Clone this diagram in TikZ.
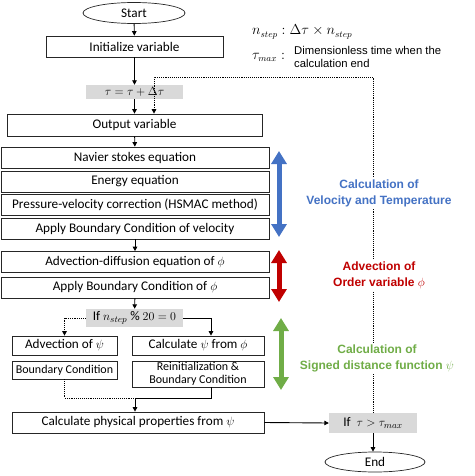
\documentclass[tikz,border=0pt]{standalone}
\usepackage{fontspec}
\setmainfont{Carlito}
\newfontfamily\arialfont{Liberation Sans}
\usetikzlibrary{arrows.meta,shapes.geometric}
\definecolor{cblue}{HTML}{4472C4}
\definecolor{cred}{HTML}{C00000}
\definecolor{cgreen}{HTML}{70AD47}
\definecolor{cgray}{HTML}{D9D9D9}
\tikzset{
  box/.style={draw=black!85, line width=0.7pt, rectangle, inner sep=0pt, align=center,
    font=\fontsize{13.2}{14}\selectfont},
  graybox/.style={fill=cgray, rectangle, inner sep=0pt, font=\fontsize{13.2}{14}\selectfont},
  oval/.style={draw=black!85, line width=0.7pt, ellipse, inner sep=0pt, font=\fontsize{13.2}{14}\selectfont},
  flow/.style={-{Triangle[width=4.5pt,length=4.5pt]}, line width=0.9pt},
  dflow/.style={flow, densely dotted},
  plain/.style={line width=0.9pt},
  dplain/.style={line width=0.9pt, densely dotted},
  bigarrow/.style={{Triangle[width=15pt,length=13pt]}-{Triangle[width=15pt,length=13pt]}, line width=5pt},
  note/.style={font=\arialfont\bfseries\fontsize{12}{16}\selectfont, align=center, fill=white, inner sep=2pt},
  legend/.style={font=\arialfont\fontsize{11.3}{13}\selectfont, inner sep=0pt, align=left},
  legmath/.style={inner sep=0pt, font=\fontsize{13.5}{14}\selectfont},
}
\begin{document}
\begin{tikzpicture}[x=1pt,y=-1pt]
\useasboundingbox (0,0) rectangle (474,476);

\node[oval, minimum width=102pt, minimum height=21pt] (start) at (134,13) {Start};
\node[box, minimum width=177pt, minimum height=21pt] (init) at (134.5,46.5) {Initialize variable};
\node[graybox, minimum width=97pt, minimum height=14pt] (tau) at (134.5,92) {$\tau=\tau+\Delta\tau$};
\node[box, minimum width=255pt, minimum height=22pt] (output) at (134.5,125) {Output variable};
\node[box, minimum width=268pt, minimum height=21pt] (navier) at (135,157.5) {Navier stokes equation};
\node[box, minimum width=268pt, minimum height=21pt] (energy) at (135,181.5) {Energy equation};
\node[box, minimum width=268pt, minimum height=21pt] (press) at (135,204.5) {Pressure-velocity correction (HSMAC method)};
\node[box, minimum width=268pt, minimum height=21pt] (applyv) at (135,228.5) {Apply Boundary Condition of velocity};
\node[box, minimum width=268pt, minimum height=21pt] (advphi) at (135,262) {Advection-diffusion equation of $\phi$};
\node[box, minimum width=268pt, minimum height=21pt] (applyphi) at (135,287.5) {Apply Boundary Condition of $\phi$};
\node[graybox, minimum width=97pt, minimum height=18pt] (ifn) at (134.5,318) {If $n_{step}$ \% $20=0$};
\node[box, minimum width=105pt, minimum height=19pt] (advpsi) at (64.5,345.5) {Advection of $\psi$};
\node[box, minimum width=105pt, minimum height=18pt, font=\fontsize{12}{13}\selectfont] (bc) at (64.5,370) {Boundary Condition};
\node[box, minimum width=132pt, minimum height=19pt] (calcpsi) at (198,345.5) {Calculate $\psi$ from $\phi$};
\node[box, minimum width=132pt, minimum height=26pt, font=\fontsize{12}{13}\selectfont] (reinit) at (198,374) {Reinitialization \&\\Boundary Condition};
\node[box, minimum width=252pt, minimum height=21pt] (phys) at (138,422.5) {Calculate physical properties from $\psi$};
\node[graybox, minimum width=88pt, minimum height=20pt] (iftau) at (373,423) {If\ \ $\tau>\tau_{max}$};
\node[oval, minimum width=100pt, minimum height=20pt] (end) at (375,462) {End};

% legend
\node[legmath, anchor=west] (leg1) at (252,32) {$n_{step}:\Delta\tau\times n_{step}$};
\node[legmath, anchor=west] (leg2) at (252,57) {$\tau_{max}:$};
\node[legend, anchor=west] (leg3) at (294,56.5) {Dimensionless time when the\\calculation end};

% main flow
\draw[flow] (start) -- (init);
\draw[flow] (init) -- (tau);
\draw[flow] (tau) -- (output);
\draw[flow] (output) -- (navier);
\draw[flow] (applyv) -- (advphi);
\draw[flow] (applyphi) -- (ifn);

% loop back (dotted)
\coordinate (lp) at (154,77);
\draw[dflow] (iftau.north) |- (lp) -- (lp |- output.north);

% branches
\draw[dflow] (ifn.west) -| (advpsi.north);
\draw[flow] (ifn.east) -| ([xshift=13pt]calcpsi.north);
\coordinate (mj) at (135,398);
\draw[dplain] (bc.south) |- (mj);
\draw[plain] ([xshift=13pt]reinit.south) |- (mj);
\draw[flow] (mj) -- (mj |- phys.north);
\draw[flow] (phys.east) -- (iftau.west);
\draw[flow] (iftau.south) -- (iftau.south |- end.north);

% big arrows
\draw[bigarrow, cblue] (279,151) -- (279,237);
\draw[bigarrow, cred] (279,250) -- (279,302);
\draw[bigarrow, cgreen] (281,318) -- (281,390);

% notes
\node[note, text=cblue] (nblue) at (379,193.5) {Calculation of\\Velocity and Temperature};
\node[note, text=cred] (nred) at (379,275) {Advection of\\Order variable $\phi$};
\node[note, text=cgreen] (ngreen) at (377,358.5) {Calculation of\\Signed distance function $\psi$};
\end{tikzpicture}
\end{document}
